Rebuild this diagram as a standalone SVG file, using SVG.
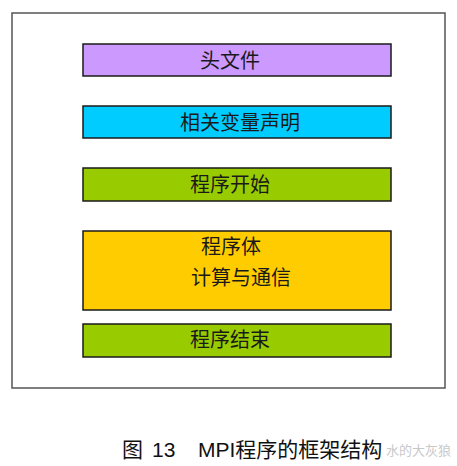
<svg xmlns="http://www.w3.org/2000/svg" width="457" height="466" viewBox="0 0 457 466">
<style>
.box{stroke:#1a1a1a;stroke-width:1.5}
.t{font-family:"Noto Sans CJK SC","Noto Sans CJK JP",sans-serif;font-size:20px;fill:#1a1a1a}
.cap{font-family:"Liberation Sans","Noto Sans CJK SC",sans-serif;font-size:21px;fill:#111}
.wm{font-family:"Noto Sans CJK SC",sans-serif;font-size:13px;fill:#c8c8c8}
</style>
<rect x="0" y="0" width="457" height="466" fill="#fff"/>
<g id="frame"><rect x="12" y="13" width="433" height="375" fill="#fff" stroke="#555" stroke-width="1.5"/></g>
<g id="connectors"></g>
<g id="header"><rect class="box" x="83" y="44" width="308" height="32" fill="#CC99FF"/><text class="t" x="200" y="68">头文件</text></g>
<g id="decl"><rect class="box" x="83" y="106" width="308" height="32" fill="#00CCFF"/><text class="t" x="180" y="130">相关变量声明</text></g>
<g id="start"><rect class="box" x="83" y="168" width="308" height="33" fill="#99CC00"/><text class="t" x="190" y="192">程序开始</text></g>
<g id="body"><rect class="box" x="83" y="231" width="308" height="79" fill="#FFCC00"/><text class="t" x="201" y="254">程序体</text><text class="t" x="191" y="285">计算与通信</text></g>
<g id="end"><rect class="box" x="83" y="324" width="308" height="33" fill="#99CC00"/><text class="t" x="190" y="347">程序结束</text></g>
<text class="wm" x="386" y="455">水的大灰狼</text>
<g id="caption"><text class="cap" y="457"><tspan x="122">图</tspan><tspan x="152">13</tspan><tspan x="198">MPI程序的框架结构</tspan></text></g>
</svg>
